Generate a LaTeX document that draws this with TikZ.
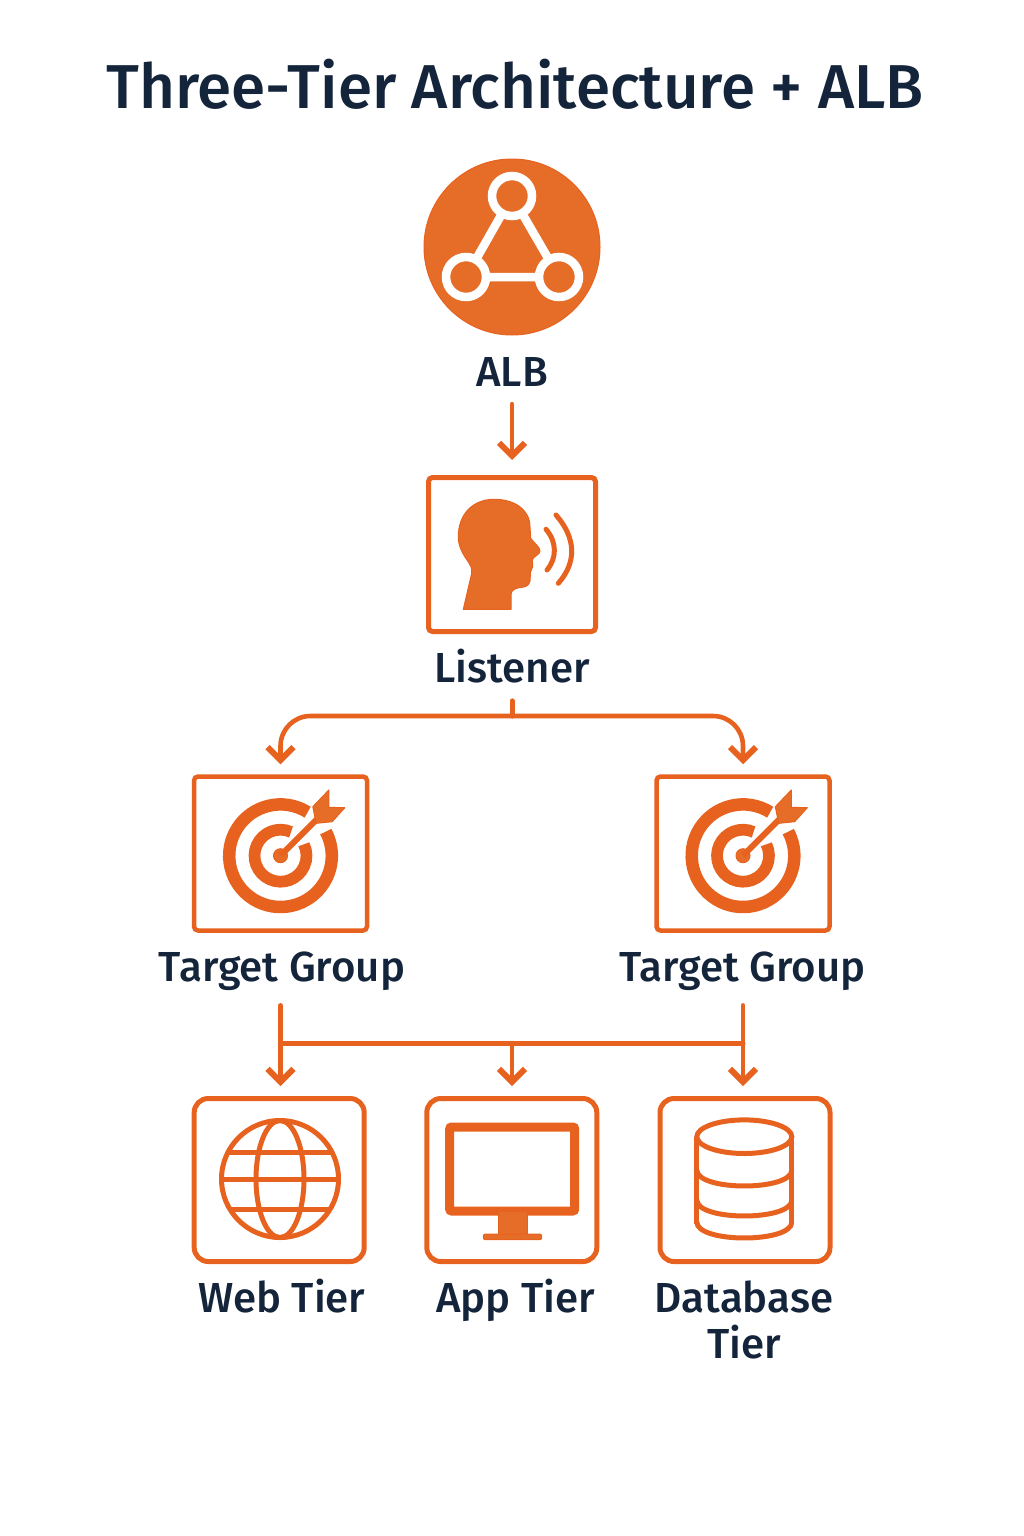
\documentclass[tikz,border=0pt]{standalone}
\usepackage{fontspec}
\setmainfont{Fira Sans Medium}
\usetikzlibrary{arrows.meta}
\definecolor{lineor}{HTML}{E8621F}
\definecolor{fillor}{HTML}{E66D28}
\definecolor{inkblue}{HTML}{14253B}
\tikzset{
  flow/.style={draw=lineor, line width=4.6pt, line cap=round, -{Straight Barb[length=13pt,width=26pt,line width=6pt]}},
  busline/.style={draw=lineor, line width=5pt, line cap=round},
  sqbox/.style={draw=lineor, line width=5pt, rounded corners=4pt, minimum width=167pt, minimum height=154pt, inner sep=0pt},
  tierbox/.style={draw=lineor, line width=5pt, rounded corners=14pt, minimum width=170pt, minimum height=163pt, inner sep=0pt},
  lbl/.style={anchor=base, inner sep=0pt, text=inkblue, font=\fontsize{42}{46}\selectfont, align=center},
  iconline/.style={draw=lineor, line width=5pt},
  iconfill/.style={fill=fillor, draw=lineor, line width=1pt, line join=round}
}
\begin{document}
\begin{tikzpicture}[x=1pt, y=-1pt]
\useasboundingbox (0,0) rectangle (1024,1536);

\node[lbl, font=\fontsize{62}{70}\selectfont] (title) at (515,109) {Three-Tier Architecture + ALB};

% load balancer
\node[circle, fill=fillor, draw=lineor, line width=1pt, minimum size=176pt, inner sep=0pt] (alb) at (512,247) {};
\draw[white, line width=8.5pt] (512,196) -- (466,277) -- (559,277) -- cycle;
\foreach \cx/\cy in {512/196, 466/277, 559/277}
  \draw[white, line width=8.5pt, fill=fillor] (\cx,\cy) circle[radius=20];
\node[lbl] (alblabel) at (512,386) {ALB};

% listener
\node[sqbox] (listener) at (512,554.5) {};
\fill[iconfill] (463.3,609.3) -- (471.7,573.3) .. controls (472,568) and (471,566) .. (469,563)
  .. controls (462,553) and (458.3,546) .. (458.3,536.7)
  .. controls (458.3,514) and (473,499.3) .. (494,499.3)
  .. controls (515,499.3) and (530,510) .. (530,527) -- (530.7,538.3)
  .. controls (534,543) and (540,547) .. (540,551) .. controls (540,555) and (533,556) .. (532.3,560)
  -- (532.7,566.7) -- (530.5,572) -- (530,581) .. controls (529,586) and (525,587) .. (521.7,587.3)
  .. controls (515,588) and (511,590) .. (511,595) -- (511,609.3) -- cycle;
\draw[iconline, line cap=round] (546,529.3) .. controls (557,542) and (557,558) .. (547,570);
\draw[iconline, line cap=round] (556,515) .. controls (576,538) and (577,562) .. (558.3,583.3);
\node[lbl] (listenerlabel) at (512,682) {Listener};

% target groups
\foreach \nm/\tx/\lx in {tgA/280.5/282, tgB/743/742.5}{
  \node[sqbox, minimum width=173pt, line width=4.5pt] (\nm) at (\tx,853.5) {};
  \node[lbl] (\nm label) at (\lx,981) {Target Group};
  \begin{scope}[shift={(\tx,855.7)}]
    \draw[draw=lineor, line width=12.5pt] (-58:51.3) arc[start angle=-58, end angle=-388, radius=51.3];
    \draw[draw=lineor, line width=11.7pt] (-66:26) arc[start angle=-66, end angle=-386, radius=26];
    \fill[iconfill] (0,0) circle[radius=7];
    \draw[draw=lineor, line width=6pt] (0,0) -- (37,-37);
    \fill[iconfill] (32.3,-49) -- (48.3,-65.7) -- (48.3,-48.4) -- (64.3,-48) -- (51.7,-34) -- (35.7,-32.4) -- cycle;
  \end{scope}
}

% tiers
\node[tierbox] (web) at (279.2,1180) {};
\node[tierbox] (app) at (511.8,1180) {};
\node[tierbox] (db) at (745,1180) {};
\node[lbl] (weblabel) at (282,1312) {Web Tier};
\node[lbl] (applabel) at (515.5,1312) {App Tier};
\node[lbl] (dblabel) at (744,1358) {Database\\Tier};

\draw[iconline] (280,1179) circle[radius=58.5];
\draw[iconline] (280,1179) ellipse[x radius=24, y radius=58.5];
\draw[iconline] (228,1152.7) -- (332,1152.7);
\draw[iconline] (222,1179.3) -- (338,1179.3);
\draw[iconline] (230,1209) -- (330,1209);

\draw[draw=lineor, line width=9pt, rounded corners=2pt] (449.7,1127) rectangle (574.7,1211);
\fill[iconfill] (498.3,1211) rectangle (527.7,1236);
\fill[iconfill, rounded corners=2pt] (483.3,1234) rectangle (541.7,1239.7);

\draw[iconline] (744.3,1136.7) ellipse[x radius=47.5, y radius=16.8];
\draw[iconline] (696.8,1136.7) -- (696.8,1224);
\draw[iconline] (791.8,1136.7) -- (791.8,1224);
\foreach \ay in {1170, 1200, 1222}
  \draw[iconline] (696.8,\ay) .. controls (696.8,\ay+21.3) and (791.8,\ay+21.3) .. (791.8,\ay);

% connectors
\coordinate (bustop) at (512,716);
\coordinate (busL) at (280.5,1043);
\coordinate (busM) at (512,1043);
\coordinate (busR) at (743,1043);

\draw[flow, shorten <=18pt, shorten >=15pt] (alblabel.south) -- (listener.north);
\draw[busline, shorten <=18pt] (listenerlabel.south) -- (bustop);
\draw[flow, rounded corners=30pt, shorten >=10pt] (bustop) -| (tgA.north);
\draw[flow, rounded corners=30pt, shorten >=10pt] (bustop) -| (tgB.north);
\draw[flow, shorten <=15pt, shorten >=10pt] (busL |- tgAlabel.south) -- (busL |- web.north);
\draw[flow, shorten <=15pt, shorten >=10pt] (busR |- tgBlabel.south) -- (busR |- db.north);
\draw[busline] (busL) -- (busR);
\draw[flow, shorten >=10pt] (busM) -- (busM |- app.north);

\end{tikzpicture}
\end{document}
